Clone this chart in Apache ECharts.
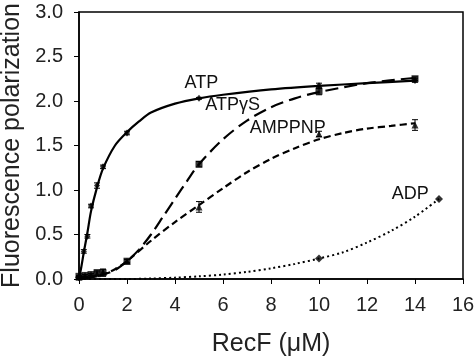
<!DOCTYPE html>
<html><head><meta charset="utf-8">
<script src="https://cdn.jsdelivr.net/npm/echarts@6/dist/echarts.min.js"></script>
<style>html,body{margin:0;padding:0;background:#fff}#c{width:474px;height:357px}</style>
</head><body><div id="c"></div>
<script>
// x ticks / y ticks
const xTicks = [0, 2, 4, 6, 8, 10, 12, 14, 16];
const yTicks = [0.0, 0.5, 1.0, 1.5, 2.0, 2.5, 3.0];

// measured points
const atpX = [0, 0.2, 0.35, 0.5, 0.75, 1, 2, 5, 10, 14];
const atpY = [0.02, 0.31, 0.48, 0.82, 1.05, 1.26, 1.64, 2.03, 2.17, 2.23];
const atpErr = [0.01, 0.02, 0.02, 0.02, 0.03, 0.02, 0.02, 0.01, 0.03, 0.02];
const atpsX = [0, 0.25, 0.5, 0.75, 1, 2, 5, 10, 14];
const atpsY = [0.03, 0.04, 0.05, 0.07, 0.07, 0.2, 1.29, 2.11, 2.25];
const atpsErr = [0.01, 0.01, 0.01, 0.03, 0.04, 0.02, 0.03, 0.04, 0.02];
const ampX = [0, 0.25, 0.5, 0.75, 1, 2, 5, 10, 14];
const ampY = [0.02, 0.04, 0.05, 0.06, 0.08, 0.2, 0.81, 1.63, 1.73];
const ampErr = [0.01, 0.01, 0.01, 0.02, 0.03, 0.02, 0.06, 0.03, 0.06];
const adpX = [0, 10, 15];
const adpY = [0.02, 0.23, 0.9];

// fitted curves
const atpFitX = [0, 0.1, 0.2, 0.35, 0.5, 0.75, 1, 1.5, 2, 2.5, 3, 4, 5, 6, 8, 10, 12, 14];
const atpFitY = [0, 0.14, 0.3, 0.52, 0.76, 1.03, 1.24, 1.5, 1.65, 1.77, 1.87, 1.97, 2.03, 2.07, 2.13, 2.17, 2.2, 2.23];
const atpsFitX = [0, 0.5, 1, 1.5, 2, 2.5, 3, 3.5, 4, 4.5, 5, 6, 7, 8, 9, 10, 12, 14];
const atpsFitY = [0, 0.02, 0.05, 0.1, 0.2, 0.33, 0.5, 0.7, 0.9, 1.1, 1.29, 1.57, 1.78, 1.93, 2.03, 2.1, 2.2, 2.26];
const ampFitX = [0, 0.5, 1, 1.5, 2, 3, 4, 5, 6, 7, 8, 9, 10, 11, 12, 13, 14];
const ampFitY = [0, 0.02, 0.05, 0.11, 0.2, 0.43, 0.64, 0.83, 1.02, 1.2, 1.35, 1.47, 1.57, 1.64, 1.69, 1.72, 1.75];
const adpFitX = [0, 2, 3, 4, 5, 6, 7, 8, 9, 10, 11, 12, 13, 14, 15];
const adpFitY = [0, 0, 0.005, 0.015, 0.03, 0.05, 0.08, 0.12, 0.17, 0.23, 0.3, 0.41, 0.54, 0.7, 0.9];

// curve labels
const labelNames = ['ATP', 'ATP\u03b3S', 'AMPPNP', 'ADP'];
const labelX = [5.1, 6.4, 8.7, 13.8];
const labelY = [2.2, 1.95, 1.70, 0.96];

const zip = (a, b) => a.map((v, i) => [v, b[i]]);
const zip3 = (a, b, c) => a.map((v, i) => [v, b[i], c[i]]);
const FONT = 'Liberation Sans, Arial, sans-serif';

function errSeries(x, y, e) {
  return {
    type: 'custom', silent: true, z: 4,
    data: zip3(x, y, e),
    renderItem: function (params, api) {
      const xv = api.value(0), yv = api.value(1), ev = api.value(2);
      const hi = api.coord([xv, yv + ev]);
      const lo = api.coord([xv, yv - ev]);
      const w = 3;
      const st = { stroke: '#000', lineWidth: 1 };
      return { type: 'group', children: [
        { type: 'line', shape: { x1: hi[0], y1: hi[1], x2: lo[0], y2: lo[1] }, style: st },
        { type: 'line', shape: { x1: hi[0] - w, y1: hi[1], x2: hi[0] + w, y2: hi[1] }, style: st },
        { type: 'line', shape: { x1: lo[0] - w, y1: lo[1], x2: lo[0] + w, y2: lo[1] }, style: st }
      ]};
    }
  };
}

function fitLine(x, y, dash, width) {
  return { type: 'line', data: zip(x, y), showSymbol: false, smooth: 0.3, silent: true, z: 2,
    lineStyle: { color: '#000', width: width, type: dash } };
}
function pts(x, y, sym, size) {
  return { type: 'scatter', data: zip(x, y), symbol: sym, symbolSize: size, z: 5,
    itemStyle: { color: '#000' } };
}

const chart = echarts.init(document.getElementById('c'), null, { renderer: 'canvas' });
chart.setOption({
  animation: false,
  grid: { left: 79, right: 11, top: 12, bottom: 78, containLabel: false, outerBoundsMode: 'none',
    show: true, borderColor: '#000', borderWidth: 1.5 },
  xAxis: {
    type: 'value', min: xTicks[0], max: xTicks[xTicks.length - 1], interval: 2,
    name: 'RecF (\u03bcM)', nameLocation: 'middle', nameGap: 53,
    nameTextStyle: { fontFamily: FONT, fontSize: 25, color: '#222' },
    axisLine: { show: true, lineStyle: { color: '#000', width: 1.5 } },
    axisTick: { show: true, length: 5, lineStyle: { color: '#000' } },
    axisLabel: { fontFamily: FONT, fontSize: 20, color: '#222', margin: 16 },
    splitLine: { show: false }
  },
  yAxis: {
    type: 'value', min: yTicks[0], max: yTicks[yTicks.length - 1], interval: 0.5,
    name: 'Fluorescence polarization', nameLocation: 'middle', nameGap: 53,
    nameTextStyle: { fontFamily: FONT, fontSize: 25, color: '#222' },
    axisLine: { show: true, lineStyle: { color: '#000', width: 1.5 } },
    axisTick: { show: true, length: 5, lineStyle: { color: '#000' } },
    axisLabel: { fontFamily: FONT, fontSize: 20, color: '#222', margin: 16, formatter: v => v.toFixed(1) },
    splitLine: { show: false }
  },
  series: [
    fitLine(atpFitX, atpFitY, 'solid', 2.2),
    fitLine(atpsFitX, atpsFitY, [13, 6], 2.2),
    fitLine(ampFitX, ampFitY, [7, 4], 2.2),
    fitLine(adpFitX, adpFitY, [2, 3], 2),
    errSeries(atpX, atpY, atpErr),
    errSeries(atpsX, atpsY, atpsErr),
    errSeries(ampX, ampY, ampErr),
    pts(atpX, atpY, 'diamond', [6, 7]),
    pts(atpsX, atpsY, 'rect', 7),
    pts(ampX, ampY, 'triangle', 7),
    pts(adpX, adpY, 'diamond', 8)
  ]
});
const texts = labelNames.map((n, i) => {
  const p = chart.convertToPixel({ gridIndex: 0 }, [labelX[i], labelY[i]]);
  return { type: 'text', x: p[0], y: p[1], z: 10,
    style: { text: n, fontFamily: FONT, fontSize: 18, fill: '#111', align: 'center', verticalAlign: 'middle' } };
});
chart.setOption({ graphic: texts });
</script></body></html>
